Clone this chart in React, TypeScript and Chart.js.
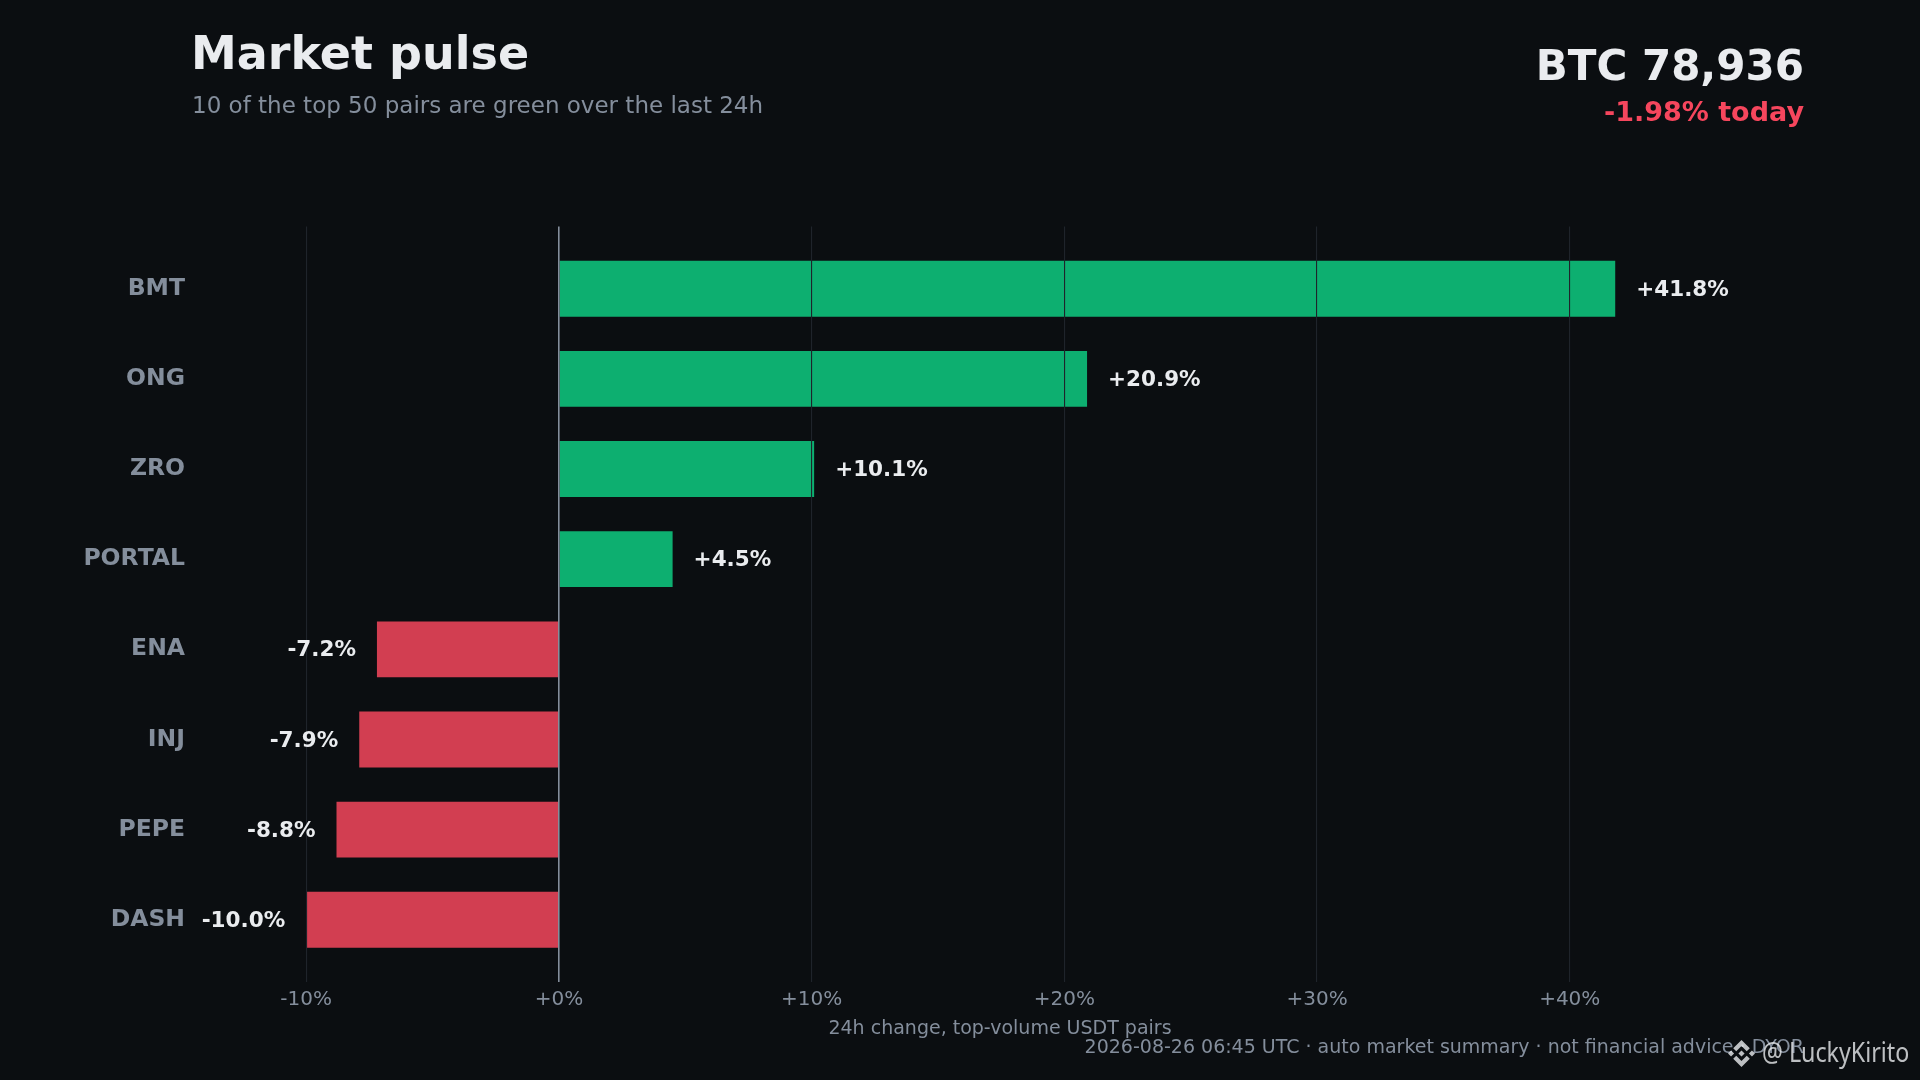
import React, { useEffect, useRef } from "react";
import { Chart, registerables } from "chart.js";

Chart.register(...registerables);

const categories = ["BMT", "ONG", "ZRO", "PORTAL", "ENA", "INJ", "PEPE", "DASH"];
const changes = [41.8, 20.9, 10.1, 4.5, -7.2, -7.9, -8.8, -10.0];
const xTickValues = [-10, 0, 10, 20, 30, 40];

const BG = "#0b0e11";
const GREEN = "rgba(14,203,129,0.85)";
const RED = "rgba(246,70,93,0.85)";
const GRAY = "#848e9c";
const WHITE = "#eaecef";
const FONT = "'DejaVu Sans', 'Noto Sans', sans-serif";

const valueLabels = {
  id: "valueLabels",
  afterDraw(chart: any) {
    const ctx = chart.ctx;
    const meta = chart.getDatasetMeta(0);
    ctx.save();
    ctx.font = `bold 21.5px ${FONT}`;
    ctx.fillStyle = WHITE;
    ctx.textBaseline = "middle";
    meta.data.forEach((bar: any, i: number) => {
      const v = changes[i];
      const txt = (v > 0 ? "+" : "") + v.toFixed(1) + "%";
      if (v >= 0) {
        ctx.textAlign = "left";
        ctx.fillText(txt, bar.x + 21, bar.y + 1.5);
      } else {
        ctx.textAlign = "right";
        ctx.fillText(txt, bar.x - 21, bar.y + 1.5);
      }
    });
    ctx.restore();
  },
};

function BinanceLogo() {
  return (
    <svg
      width="27"
      height="27"
      viewBox="0 0 126.61 126.61"
      style={{ position: "absolute", left: 1728, top: 1040 }}
    >
      <g fill="rgba(234,236,239,0.8)">
        <path d="M38.73 53.2l24.59-24.58 24.6 24.6 14.3-14.31L63.32 0 24.42 38.9l14.31 14.3zM0 63.31l14.3-14.31 14.31 14.31-14.31 14.3zM38.73 73.41l24.59 24.59 24.6-24.6 14.31 14.29-38.9 38.91-38.91-38.88-.02-.02zM98 63.31l14.3-14.31 14.31 14.3-14.31 14.32z" />
        <path d="M77.83 63.3L63.32 48.78 52.59 59.51l-1.24 1.23-2.54 2.54 14.51 14.5 14.51-14.47z" />
      </g>
    </svg>
  );
}

export default function App() {
  const canvasRef = useRef<HTMLCanvasElement | null>(null);

  useEffect(() => {
    if (!canvasRef.current) return;
    Chart.defaults.font.family = FONT;
    const chart = new Chart(canvasRef.current, {
      type: "bar",
      data: {
        datasets: [
          {
            data: changes.map((v, i) => ({ x: v, y: i })) as any,
            backgroundColor: changes.map((v) => (v >= 0 ? GREEN : RED)),
            borderWidth: 0,
            barPercentage: 0.62,
            categoryPercentage: 1,
          },
        ],
      },
      options: {
        indexAxis: "y",
        animation: false,
        responsive: true,
        maintainAspectRatio: false,
        layout: { padding: { left: 0, right: 116, top: 226.5, bottom: 58 } },
        plugins: {
          legend: { display: false },
          tooltip: { enabled: false },
        },
        scales: {
          x: {
            type: "linear",
            min: -14.36,
            max: 49.27,
            afterBuildTicks: (scale: any) => {
              scale.ticks = xTickValues.map((v) => ({ value: v }));
            },
            afterFit: (scale: any) => {
              scale.height = 40;
            },
            ticks: {
              color: GRAY,
              font: { size: 20, family: FONT },
              padding: 6,
              callback: (v: any) => (Number(v) < 0 ? `${v}%` : `+${v}%`),
            },
            grid: {
              z: 1,
              color: (c: any) => (c.tick && c.tick.value === 0 ? GRAY : "#1f242b"),
              lineWidth: (c: any) => (c.tick && c.tick.value === 0 ? 1.6 : 1.1),
              drawTicks: false,
            },
            border: { display: false },
          },
          y: {
            type: "linear",
            reverse: true,
            offset: false,
            min: -0.69,
            max: 7.69,
            afterBuildTicks: (scale: any) => {
              scale.ticks = categories.map((_, i) => ({ value: i }));
            },
            afterFit: (scale: any) => {
              scale.width = 196;
            },
            ticks: {
              color: GRAY,
              font: { size: 23.5, weight: "bold", family: FONT },
              padding: 11,
              callback: (v: any) => categories[Number(v)] ?? "",
            },
            grid: { display: false, drawTicks: false },
            border: { display: false },
          },
        },
      } as any,
      plugins: [valueLabels],
    });
    return () => chart.destroy();
  }, []);

  const text = (style: React.CSSProperties) => ({
    position: "absolute" as const,
    lineHeight: 1,
    whiteSpace: "nowrap" as const,
    fontFamily: FONT,
    margin: 0,
    ...style,
  });

  return (
    <div
      style={{
        position: "fixed",
        left: 0,
        top: 0,
        width: 1920,
        height: 1080,
        background: BG,
        overflow: "hidden",
      }}
    >
      <div style={{ position: "absolute", left: 0, top: 0, width: 1920, height: 1080 }}>
        <canvas ref={canvasRef} />
      </div>
      <div style={text({ left: 191, top: 30, fontSize: 46, fontWeight: "bold", color: WHITE })}>
        Market pulse
      </div>
      <div style={text({ left: 192, top: 93.5, fontSize: 23, color: GRAY })}>
        10 of the top 50 pairs are green over the last 24h
      </div>
      <div style={text({ right: 116, top: 44.5, fontSize: 42, fontWeight: "bold", color: WHITE })}>
        BTC 78,936
      </div>
      <div style={text({ right: 116, top: 98, fontSize: 27, fontWeight: "bold", color: "#f6465d" })}>
        -1.98% today
      </div>
      <div
        style={text({
          left: 1000,
          top: 1017.5,
          fontSize: 19,
          color: GRAY,
          transform: "translateX(-50%)",
        })}
      >
        24h change, top-volume USDT pairs
      </div>
      <div style={text({ right: 116, top: 1036.6, fontSize: 19, color: GRAY })}>
        2026-08-26 06:45 UTC · auto market summary · not financial advice · DYOR
      </div>
      <BinanceLogo />
      <div
        style={text({
          left: 1762,
          top: 1038,
          fontSize: 27,
          fontFamily: "'Noto Sans', sans-serif",
          color: "rgba(234,236,239,0.8)",
          transform: "scaleX(0.86)",
          transformOrigin: "left center",
        })}
      >
        @ LuckyKirito
      </div>
    </div>
  );
}
